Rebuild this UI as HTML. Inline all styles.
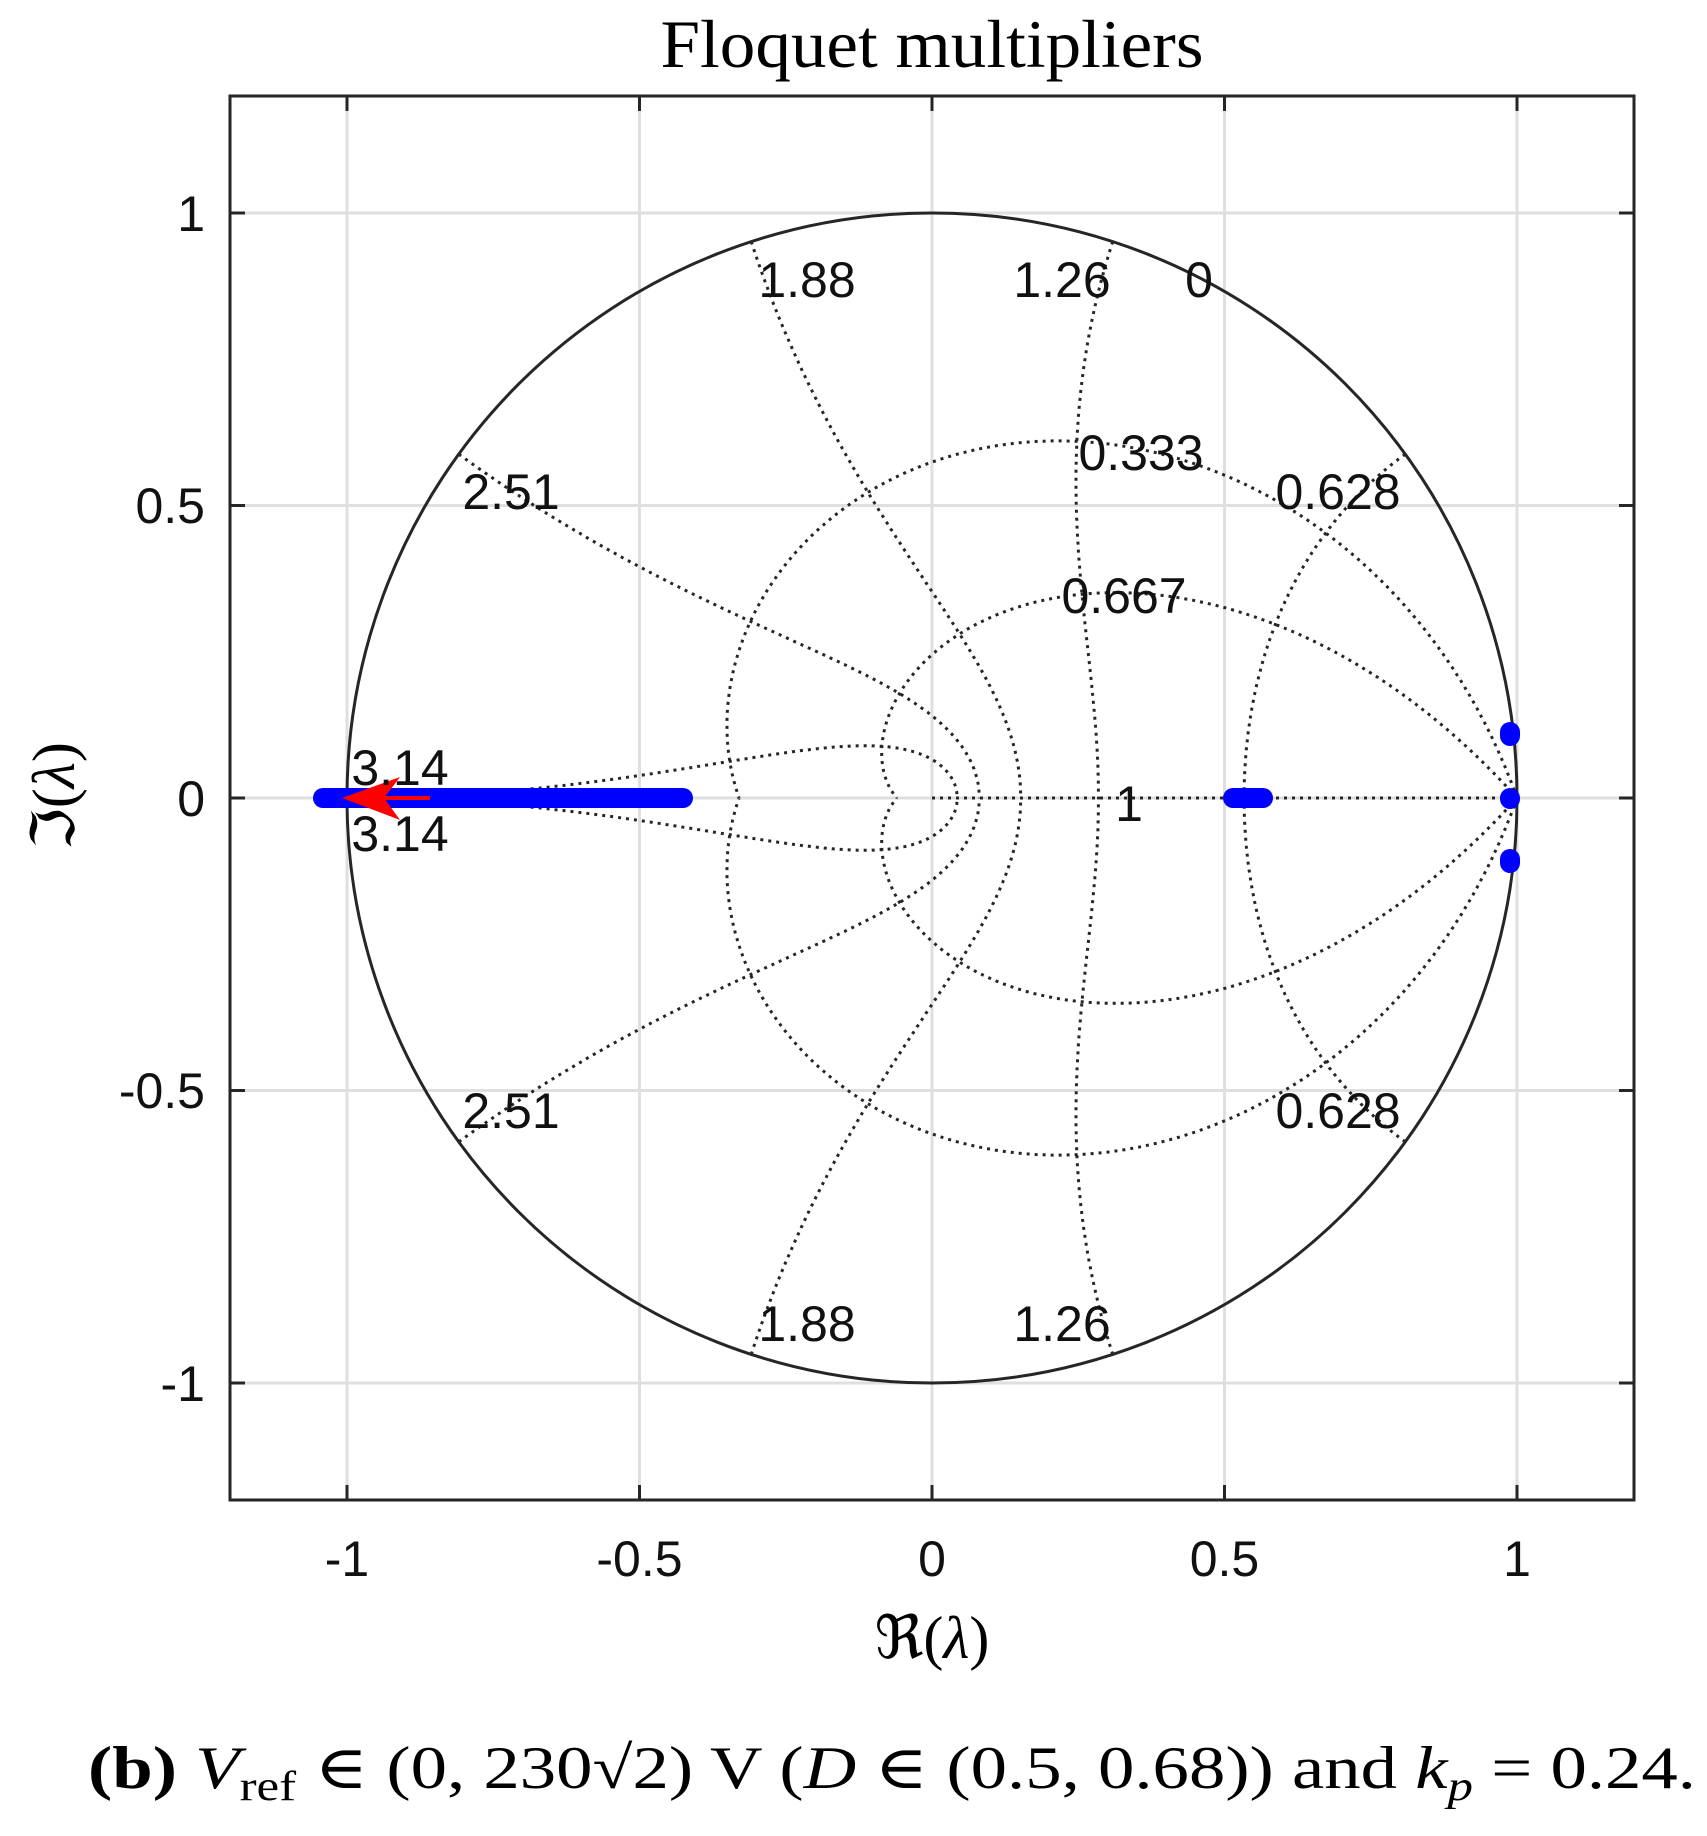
<!DOCTYPE html>
<html><head><meta charset="utf-8"><style>
html,body{margin:0;padding:0;background:#fff}
svg{display:block}
.t{font-family:"Liberation Sans",sans-serif;font-size:50px;fill:#111}
.s{font-family:"Liberation Serif","DejaVu Serif",serif;fill:#000}
</style></head><body>
<svg id="sv" width="1707" height="1836" viewBox="0 0 1707 1836" xmlns="http://www.w3.org/2000/svg">
<rect width="1707" height="1836" fill="#fff"/>
<g stroke="#dfdfdf" stroke-width="3">
<line x1="347" y1="96" x2="347" y2="1500"/><line x1="639.5" y1="96" x2="639.5" y2="1500"/>
<line x1="932" y1="96" x2="932" y2="1500"/><line x1="1224.5" y1="96" x2="1224.5" y2="1500"/>
<line x1="1517" y1="96" x2="1517" y2="1500"/>
<line x1="230" y1="213" x2="1634" y2="213"/><line x1="230" y1="505.5" x2="1634" y2="505.5"/>
<line x1="230" y1="798" x2="1634" y2="798"/><line x1="230" y1="1090.5" x2="1634" y2="1090.5"/>
<line x1="230" y1="1383" x2="1634" y2="1383"/>
</g>
<g id="dots" fill="none" stroke="#262626" stroke-width="3" stroke-dasharray="3 5"></g>
<circle cx="932" cy="798" r="585" fill="none" stroke="#262626" stroke-width="3"/>
<g stroke="#262626" stroke-width="3" fill="none">
<rect x="230" y="96" width="1404" height="1404"/>
<path d="M347 96v15M639.5 96v15M932 96v15M1224.5 96v15M1517 96v15M347 1500v-15M639.5 1500v-15M932 1500v-15M1224.5 1500v-15M1517 1500v-15M230 213h15M230 505.5h15M230 798h15M230 1090.5h15M230 1383h15M1634 213h-15M1634 505.5h-15M1634 798h-15M1634 1090.5h-15M1634 1383h-15"/>
</g>
<g class="t" text-anchor="middle">
<text x="807" y="297">1.88</text><text x="1062" y="297">1.26</text><text x="1199" y="297">0</text>
<text x="1141" y="470">0.333</text><text x="1338" y="509">0.628</text><text x="511" y="509">2.51</text>
<text x="1124" y="613">0.667</text><text x="1129" y="821">1</text>
<text x="511" y="1128">2.51</text><text x="1338" y="1128">0.628</text>
<text x="807" y="1341">1.88</text><text x="1062" y="1341">1.26</text>
</g>
<g stroke="#0000ff" stroke-linecap="round" stroke-width="20">
<line x1="323" y1="798" x2="683" y2="798"/>
<line x1="1233" y1="798" x2="1263" y2="798"/>
<line x1="1510" y1="732" x2="1510" y2="736"/>
<line x1="1510" y1="798" x2="1510" y2="799"/>
<line x1="1510" y1="859" x2="1510" y2="863"/>
</g>
<line x1="380" y1="798" x2="430" y2="798" stroke="#ff0000" stroke-width="4"/>
<polygon points="342,798 400,777 384,798 400,820" fill="#ff0000"/>
<g class="t" text-anchor="middle"><text x="400" y="785">3.14</text><text x="400" y="851">3.14</text></g>
<g class="t" text-anchor="middle">
<text x="347" y="1576">-1</text><text x="639.5" y="1576">-0.5</text><text x="932" y="1576">0</text>
<text x="1224.5" y="1576">0.5</text><text x="1517" y="1576">1</text>
</g>
<g class="t" text-anchor="end">
<text x="205" y="231">1</text><text x="205" y="523">0.5</text><text x="205" y="816">0</text>
<text x="205" y="1108">-0.5</text><text x="205" y="1401">-1</text>
</g>
<text class="s" x="932" y="67" text-anchor="middle" font-size="68" textLength="543" lengthAdjust="spacingAndGlyphs">Floquet multipliers</text>
<text class="s" x="932" y="1658" text-anchor="middle" font-size="60">ℜ(<tspan font-style="italic">λ</tspan>)</text>
<text class="s" transform="translate(74,796) rotate(-90)" text-anchor="middle" font-size="60">ℑ(<tspan font-style="italic">λ</tspan>)</text>
<text class="s" x="88" y="1788" font-size="60" textLength="1608" lengthAdjust="spacingAndGlyphs"><tspan font-weight="bold">(b)</tspan> <tspan font-style="italic">V</tspan><tspan font-size="42" dy="12">ref</tspan><tspan dy="-12"> ∈ (0, 230√2) V (</tspan><tspan font-style="italic">D</tspan> ∈ (0.5, 0.68)) and <tspan font-style="italic">k</tspan><tspan font-size="42" font-style="italic" dy="12">p</tspan><tspan dy="-12"> = 0.24.</tspan></text>
</svg>
<script>
(function(){
var g=document.getElementById('dots'),cx=932,cy=798,u=585,d='';
function P(pts){var s='';for(var i=0;i<pts.length;i++){s+=(i?'L':'M')+(cx+u*pts[i][0]).toFixed(1)+' '+(cy-u*pts[i][1]).toFixed(1);}return s;}
function add(pts){d+=P(pts);d+=P(pts.map(function(p){return[p[0],-p[1]];}));}
[0.333,0.667].forEach(function(z){var q=Math.sqrt(1-z*z),wm=Math.PI/q,a=[];
for(var i=0;i<=300;i++){var w=wm*i/300,r=Math.exp(-z*w),t=w*q;a.push([r*Math.cos(t),r*Math.sin(t)]);}add(a);});
for(var k=1;k<=5;k++){var wn=k*Math.PI/5,a=[];
for(var i=0;i<=300;i++){var z=i/300,r=Math.exp(-z*wn),t=wn*Math.sqrt(1-z*z);a.push([r*Math.cos(t),r*Math.sin(t)]);}add(a);}
d+='M'+cx+' '+cy+'L'+(cx+u)+' '+cy;
var p=document.createElementNS('http://www.w3.org/2000/svg','path');p.setAttribute('d',d);g.appendChild(p);
})();
</script>
</body></html>
